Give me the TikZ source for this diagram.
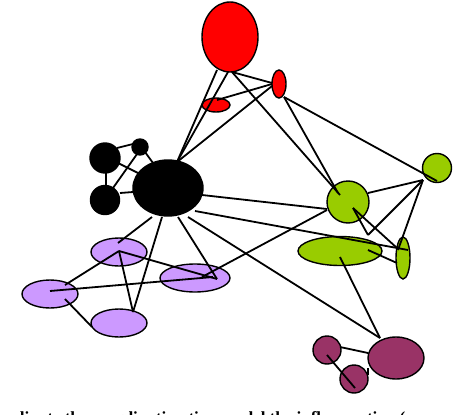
\documentclass[tikz,border=0pt]{standalone}
\usepackage{fontspec}
\setmainfont{Liberation Serif}
\usetikzlibrary{shapes.geometric}
\definecolor{cred}{HTML}{FF0000}
\definecolor{cgreen}{HTML}{99CC00}
\definecolor{cpurple}{HTML}{CC99FF}
\definecolor{cmaroon}{HTML}{993366}
\tikzset{
  blob/.style n args={3}{ellipse, draw=black, line width=1.4pt, fill=#1, inner sep=0pt,
     minimum width=#2pt, minimum height=#3pt},
  edge/.style={draw=black, line width=1.8pt},
}
\newcommand{\off}[3]{([shift={(#2,#3)}]#1.center)}
\begin{document}
\begin{tikzpicture}[x=1pt,y=-1pt]
\useasboundingbox (0,0) rectangle (474,415);
\fill[white] (0,0) rectangle (474,415);
% red
\node[blob={cred}{56}{70}] (R1) at (230,37) {};
\node[blob={cred}{28}{14}] (R2) at (216,105) {};
\node[blob={cred}{14}{28}] (R3) at (279,84) {};
% black
\node[blob={black}{70}{56}] (B1) at (168,188) {};
\node[blob={black}{30}{30}] (B2) at (105,158) {};
\node[blob={black}{29}{29}] (B3) at (105,200) {};
\node[blob={black}{16}{16}] (B4) at (140,147) {};
% green
\node[blob={cgreen}{42}{42}] (G1) at (348,202) {};
\node[blob={cgreen}{29}{29}] (G2) at (437,168) {};
\node[blob={cgreen}{84}{29}] (G3) at (340,251) {};
\node[blob={cgreen}{14}{42}] (G4) at (403,258) {};
% purple
\node[blob={cpurple}{56}{28}] (P1) at (119,252) {};
\node[blob={cpurple}{70}{28}] (P2) at (195,278) {};
\node[blob={cpurple}{56}{28}] (P3) at (50,294) {};
\node[blob={cpurple}{56}{28}] (P4) at (119,323) {};
% maroon
\node[blob={cmaroon}{56}{42}] (M1) at (396,358) {};
\node[blob={cmaroon}{28}{28}] (M2) at (327,350) {};
\node[blob={cmaroon}{28}{28}] (M3) at (354,379) {};
% edges
\draw[edge] \off{B1}{9}{-26} -- \off{R1}{-13}{33};
\draw[edge] \off{B1}{9}{-26} -- \off{R1}{-2}{35};
\draw[edge] \off{B1}{9}{-26} -- \off{R3}{-7}{2};
\draw[edge] \off{R2}{1}{-5} -- \off{R3}{-7}{0};
\draw[edge] \off{R1}{2}{35} -- \off{R3}{-7}{-1};
\draw[edge] \off{R1}{2}{35} -- \off{G1}{-8}{-7};
\draw[edge] \off{R3}{5}{13} -- \off{G1}{-10}{-9};
\draw[edge] \off{R3}{5}{13} -- \off{G2}{0}{13};
\draw[edge] \off{G2}{-14}{12} -- \off{G1}{20}{-9};
\draw[edge] \off{G2}{-14}{12} -- \off{G3}{28}{-16};
\draw[edge] \off{G1}{5}{6} -- \off{G3}{28}{-16};
\draw[edge] \off{G2}{-14}{12} -- \off{G4}{-5}{-8};
\draw[edge] \off{G1}{5}{6} -- \off{G4}{-6}{-10};
\draw[edge] \off{B1}{27}{23} -- \off{G4}{5}{-8};
\draw[edge] \off{B1}{34}{7} -- \off{G1}{-21}{7};
\draw[edge] \off{P2}{7}{-1} -- \off{G1}{-21}{8};
\draw[edge] \off{G3}{28}{-1} -- \off{G4}{-6}{5};
\draw[edge] \off{G3}{0}{6} -- \off{M1}{-16}{-20};
\draw[edge] \off{B1}{20}{29} -- \off{M1}{-16}{-20};
\draw[edge] \off{M2}{13}{-3} -- \off{M1}{-28}{-5};
\draw[edge] \off{M2}{0}{5} -- \off{M3}{1}{9};
\draw[edge] \off{M3}{14}{-11} -- \off{M1}{-28}{17};
\draw[edge] \off{B1}{-16}{29} -- \off{P1}{-1}{-9};
\draw[edge] \off{P1}{0}{-1} -- \off{P2}{22}{1};
\draw[edge] \off{P1}{0}{-1} -- \off{P4}{14}{-11};
\draw[edge] \off{P1}{0}{-1} -- \off{P3}{15}{-9};
\draw[edge] \off{B1}{-6}{29} -- \off{P4}{14}{-11};
\draw[edge] \off{B1}{10}{29} -- \off{P2}{22}{1};
\draw[edge] \off{P3}{0}{-3} -- \off{P2}{18}{-1};
\draw[edge] \off{P3}{15}{5} -- \off{P4}{-27}{4};
\draw[edge] \off{B2}{12}{-10} -- \off{B4}{-7}{-3};
\draw[edge] \off{B2}{13}{5} -- \off{B1}{-30}{-15};
\draw[edge] \off{B2}{1}{14} -- \off{B3}{1}{-14};
\draw[edge] \off{B3}{8}{-12} -- \off{B4}{2}{0};
\draw[edge] \off{B4}{5}{5} -- \off{B1}{-15}{-25};
\draw[edge] \off{B3}{15}{-7} -- \off{B1}{-35}{4};
% caption (cut by the page edge, as in the reference)
\node[anchor=base west, inner sep=0pt, font=\fontsize{17}{19}\selectfont\bfseries] (cap) at (15,423)
  {dinate the coordination tion model the influence tion (};
\end{tikzpicture}
\end{document}
